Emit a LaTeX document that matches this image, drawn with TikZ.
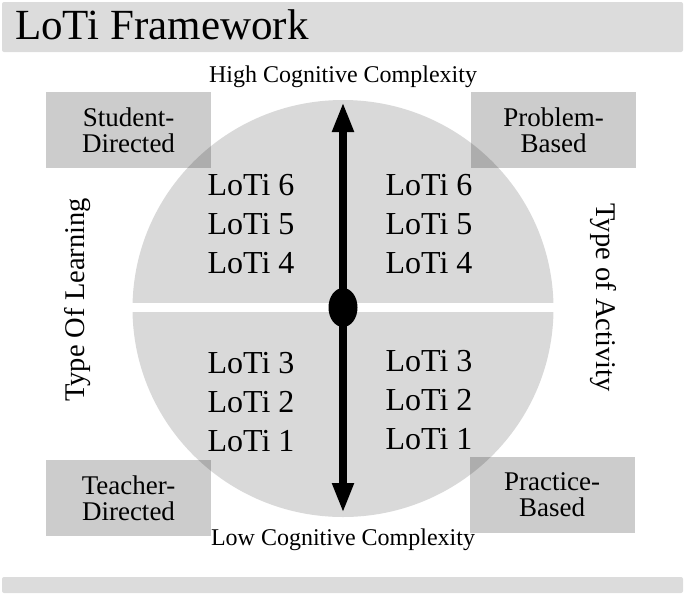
\documentclass[tikz,border=0pt]{standalone}
\usepackage{fontspec}
\setmainfont{Liberation Serif}
\usetikzlibrary{arrows.meta,shapes.geometric}
\definecolor{barg}{HTML}{DCDCDC}
\definecolor{discg}{HTML}{D9D9D9}
\tikzset{
  bar/.style={fill=barg, draw=none, rounded corners=2pt},
  corner/.style={fill=black, fill opacity=0.2, text opacity=1, draw=none,
    minimum width=165pt, minimum height=76pt, inner sep=0pt, align=center,
    font=\fontsize{27}{26}\selectfont},
  loti/.style={anchor=base, inner sep=0pt, font=\fontsize{32}{38}\selectfont},
  axislabel/.style={anchor=base, inner sep=0pt, font=\fontsize{24}{28}\selectfont},
  sidelabel/.style={inner sep=0pt, font=\fontsize{28.5}{32}\selectfont},
  bigarrow/.style={line width=8pt, {Triangle[length=30pt,width=20pt]}-{Triangle[length=30pt,width=20pt]}}
}
\begin{document}
\begin{tikzpicture}[x=1pt,y=-1pt]
\useasboundingbox (0,0) rectangle (685,595);
% bars
\fill[bar] (2,2) rectangle (683,52);
\fill[bar] (2,577) rectangle (683,593);
\node[anchor=base west, inner sep=0pt, font=\fontsize{43}{50}\selectfont] (title) at (15,39) {LoTi Framework};
% disc
\node[ellipse, fill=discg, draw=none, minimum width=421pt, minimum height=417pt, inner sep=0pt] (disc) at (343,308.5) {};
\fill[white] (128,303) rectangle (558,312);
% corner boxes
\node[corner] (sd) at (128.5,130) {Student-\\Directed};
\node[corner] (pb) at (553.5,130) {Problem-\\Based};
\node[corner] (td) at (128.5,498) {Teacher-\\Directed};
\node[corner] (pr) at (552,494.5) {Practice-\\Based};
% axis
\coordinate (top) at (343,102);
\coordinate (bot) at (343,513);
\draw[bigarrow] (top) -- (bot);
\node[ellipse, fill=black, draw=none, minimum width=29pt, minimum height=39pt, inner sep=0pt] (hub) at (343,307.5) {};
\node[axislabel] (high) at (343,82) {High Cognitive Complexity};
\node[axislabel] (low) at (343,545) {Low Cognitive Complexity};
% side labels
\node[sidelabel, rotate=90] (tol) at (78,300) {Type Of Learning};
\node[sidelabel, rotate=-90] (toa) at (603,297.5) {Type of Activity};
% levels
\node[loti] (l6) at (251,195) {LoTi 6};
\node[loti] (l5) at (251,234) {LoTi 5};
\node[loti] (l4) at (251,273) {LoTi 4};
\node[loti] (l3) at (251,373) {LoTi 3};
\node[loti] (l2) at (251,412) {LoTi 2};
\node[loti] (l1) at (251,451) {LoTi 1};
\node[loti] (r6) at (429,195) {LoTi 6};
\node[loti] (r5) at (429,234) {LoTi 5};
\node[loti] (r4) at (429,273) {LoTi 4};
\node[loti] (r3) at (429,371) {LoTi 3};
\node[loti] (r2) at (429,410) {LoTi 2};
\node[loti] (r1) at (429,449) {LoTi 1};
\end{tikzpicture}
\end{document}
